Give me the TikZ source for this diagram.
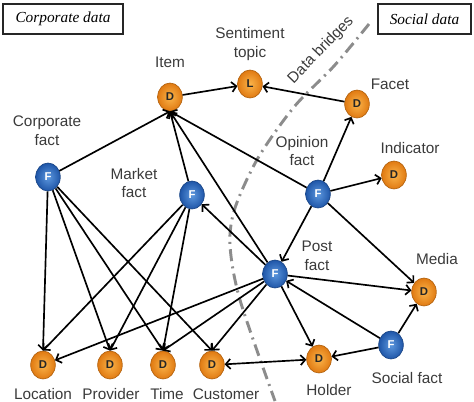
\documentclass[tikz,border=0pt]{standalone}
\usepackage{fontspec}
\setmainfont{Liberation Sans}
\newfontfamily\boxfont{Liberation Serif}
\usepackage{tikz}
\usetikzlibrary{shapes.geometric,arrows.meta}

\definecolor{dlight}{HTML}{FBB44A}
\definecolor{ddark}{HTML}{E07A12}
\definecolor{flight}{HTML}{5C97DE}
\definecolor{fdark}{HTML}{1F56A8}
\definecolor{labelgray}{HTML}{3A3A3A}
\definecolor{bridgegray}{HTML}{8C8C8C}

\begin{document}
\begin{tikzpicture}[x=0.75pt,y=-0.75pt,
    >={Straight Barb[length=3.5pt,width=7.5pt]},
    ball/.style={ellipse, minimum width=18.5pt, minimum height=21pt, inner sep=0pt,
        font=\bfseries\fontsize{8.5}{9}\selectfont},
    dnode/.style={ball, shading=radial, inner color=dlight, outer color=ddark,
        draw=ddark!80!black, line width=0.5pt, text=black!85},
    fnode/.style={ball, shading=radial, inner color=flight, outer color=fdark,
        draw=fdark!80!black, line width=0.5pt, text=white},
    lbl/.style={text=labelgray, align=center, inner sep=0pt,
        font=\fontsize{11.5}{14}\selectfont},
    databox/.style={draw=black!85, line width=1.3pt, inner sep=0pt,
        minimum height=22.5pt, font=\boxfont\itshape\fontsize{11.5}{13}\selectfont},
    link/.style={->, line width=1.25pt}]
    \useasboundingbox (0,0) rectangle (474,401);

    % Data sources
    \node[databox, minimum width=90pt] (corpbox) at (63,19) {Corporate data};
    \node[databox, minimum width=70pt] (socbox) at (424.5,19) {Social data};

    % Data bridges
    \draw[bridgegray, line width=2.2pt, dash pattern=on 9pt off 4pt on 1.5pt off 4pt]
        plot[smooth, tension=0.5] coordinates
        {(369,24) (334,66) (294,107) (258,158) (235,208) (230,245) (240,300) (275,401)};
    \node[lbl, rotate=46] (bridges) at (321,50) {Data bridges};

    % Facts
    \node[fnode] (corpfact) at (48,177) {F};
    \node[fnode] (marketfact) at (192,195) {F};
    \node[fnode] (opinion) at (318,194) {F};
    \node[fnode] (postfact) at (275,274) {F};
    \node[fnode] (socialfact) at (391,345) {F};

    % Dimensions
    \node[dnode] (item) at (170,97) {D};
    \node[dnode] (senttopic) at (250,84) {L};
    \node[dnode] (facet) at (357,104) {D};
    \node[dnode] (indicator) at (394,175) {D};
    \node[dnode] (media) at (424,292) {D};
    \node[dnode] (holder) at (319,359) {D};
    \node[dnode] (location) at (43,365) {D};
    \node[dnode] (provider) at (110,365) {D};
    \node[dnode] (time) at (163,365) {D};
    \node[dnode] (customer) at (212,365) {D};

    % Labels
    \node[lbl] (itemlbl) at (170,62) {Item};
    \node[lbl] (senttopiclbl) at (250,44) {Sentiment\\topic};
    \node[lbl] (facetlbl) at (390,84) {Facet};
    \node[lbl] (opinionlbl) at (302,151) {Opinion\\fact};
    \node[lbl] (indicatorlbl) at (410,148) {Indicator};
    \node[lbl] (corpfactlbl) at (47,131) {Corporate\\fact};
    \node[lbl] (marketfactlbl) at (134,183) {Market\\fact};
    \node[lbl] (postfactlbl) at (317,256) {Post\\fact};
    \node[lbl] (medialbl) at (437,259) {Media};
    \node[lbl] (socialfactlbl) at (407,378) {Social fact};
    \node[lbl] (holderlbl) at (329,390) {Holder};
    \node[lbl] (locationlbl) at (43,394) {Location};
    \node[lbl] (providerlbl) at (111,394) {Provider};
    \node[lbl] (timelbl) at (167,394) {Time};
    \node[lbl] (customerlbl) at (226,394) {Customer};

    % Links of the social side
    \draw[link] (item) -- (senttopic);
    \draw[link] (facet) -- (senttopic);
    \draw[link] (opinion) -- (facet);
    \draw[link] (opinion) -- (indicator);
    \draw[link] (opinion) -- (item.south);
    \draw[link] (opinion) -- (postfact);
    \draw[link] (opinion) -- (media);
    \draw[link] (postfact) -- (item.south);
    \draw[link] (postfact) -- (marketfact);
    \draw[link] (postfact) -- (media);
    \draw[link] (postfact) -- (holder);
    \draw[link] (socialfact) -- (postfact);
    \draw[link] (socialfact) -- (media);
    \draw[link] (socialfact) -- (holder);
    \draw[link, <->] (customer) -- (holder);

    % Links of the corporate side
    \draw[link] (corpfact) -- (item.south);
    \draw[link] (marketfact) -- (item.south);
    \draw[link] (corpfact) -- (location.north);
    \draw[link] (corpfact) -- (provider.north);
    \draw[link] (corpfact) -- (time.north);
    \draw[link] (corpfact) -- (customer.north);
    \draw[link] (marketfact) -- (location.north);
    \draw[link] (marketfact) -- (provider.north);
    \draw[link] (marketfact) -- (time.north);
    \draw[link] (postfact) -- (location);
    \draw[link] (postfact) -- (time.north);
    \draw[link] (postfact) -- (customer.north);

\end{tikzpicture}
\end{document}
